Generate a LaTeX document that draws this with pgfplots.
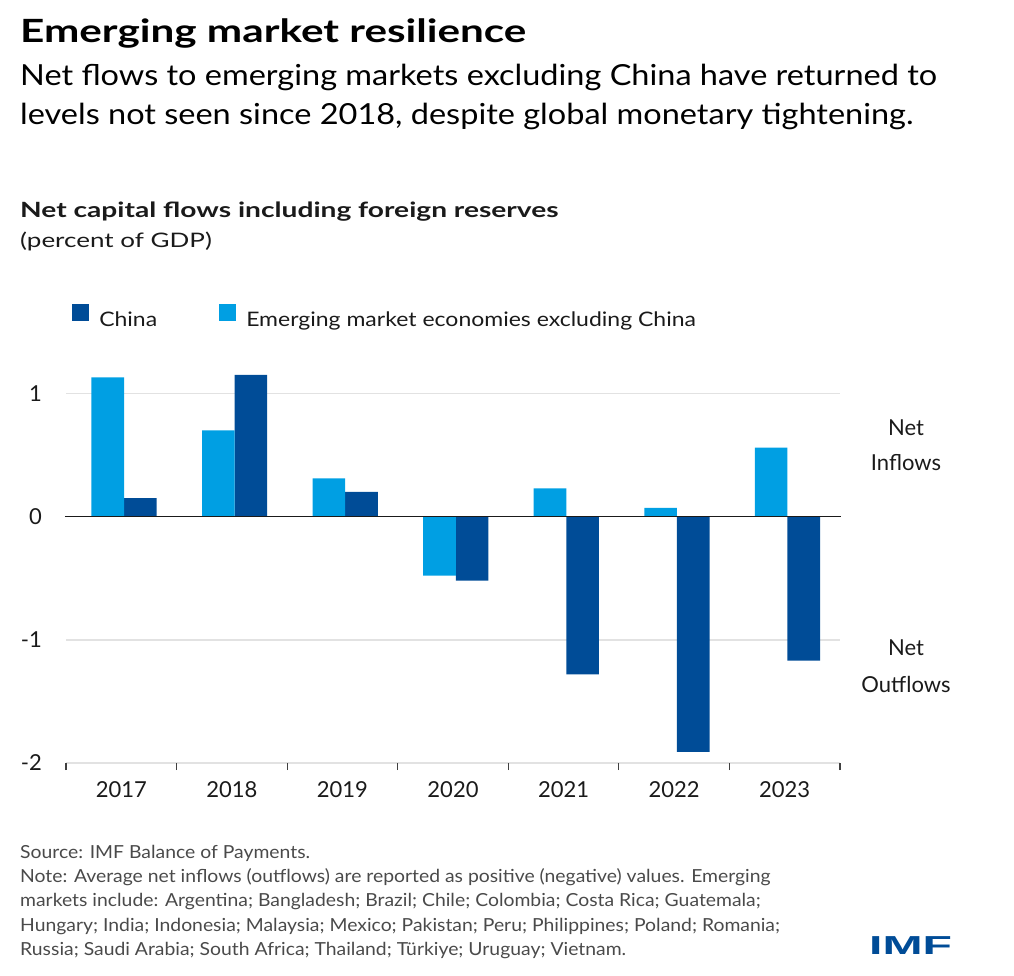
\documentclass[border=0pt]{standalone}
\usepackage{fontspec}
\usepackage{pgfplots}
\usepackage{pgfplotstable}
\pgfplotsset{compat=1.18}
\setmainfont{Lato}
\newfontfamily\titlefont{Lato}[FakeStretch=1.32]
\newfontfamily\subfont{Lato}[FakeStretch=1.12]
\newfontfamily\headfont{Lato}[FakeStretch=1.34]
\newfontfamily\unitfont{Lato}[FakeStretch=1.30]
\newfontfamily\legfont{Lato}[FakeStretch=1.15]
\newfontfamily\notefont{Lato}[FakeStretch=1.075]
\newfontfamily\logofont{Liberation Sans}[FakeStretch=1.85]

\definecolor{chinablue}{HTML}{004C97}
\definecolor{emblue}{HTML}{009FE3}
\definecolor{gridgray}{HTML}{E2E2E2}
\definecolor{notegray}{HTML}{4A4A4A}
\definecolor{inkdark}{HTML}{1A1A1A}

% Net capital flows including foreign reserves, percent of GDP
\pgfplotstableread{
idx year em china
0 2017 1.13 0.15
1 2018 0.70 1.15
2 2019 0.31 0.20
3 2020 -0.48 -0.52
4 2021 0.23 -1.28
5 2022 0.07 -1.91
6 2023 0.56 -1.17
}\flows

\begin{document}
\begin{tikzpicture}[x=1pt,y=1pt]
\path (0,0) rectangle (1014,975);

% headline and standfirst
\node[anchor=base west, inner sep=0] at (20,932)
  {\titlefont\fontsize{32}{38}\selectfont\bfseries Emerging market resilience};
\node[anchor=base west, inner sep=0] at (20,889)
  {\subfont\fontsize{29}{35}\selectfont Net flows to emerging markets excluding China have returned to};
\node[anchor=base west, inner sep=0] at (20,850)
  {\subfont\fontsize{29}{35}\selectfont levels not seen since 2018, despite global monetary tightening.};

% chart heading
\node[anchor=base west, inner sep=0, text=inkdark] at (20,757)
  {\headfont\fontsize{21}{25}\selectfont\bfseries Net capital flows including foreign reserves};
\node[anchor=base west, inner sep=0, text=inkdark] at (20,727)
  {\unitfont\fontsize{20}{24}\selectfont (percent of GDP)};

\begin{axis}[
  at={(66pt,212pt)}, anchor=south west,
  scale only axis, width=774pt, height=400.4pt,
  xmin=-0.5, xmax=6.5, ymin=-2, ymax=1.25,
  axis line style={draw=none},
  ymajorgrids, grid style={gridgray, line width=1.5pt},
  ytick={-2,-1,0,1}, yticklabels={-2,-1,0,1},
  xtick={0,...,6}, xticklabels={2017,2018,2019,2020,2021,2022,2023},
  minor xtick={-0.5,0.5,...,6.5},
  xtick pos=bottom, ytick pos=left,
  major tick length=0pt, minor tick length=7pt, tick align=outside,
  minor tick style={black!75, line width=1.2pt},
  yticklabel style={font=\fontsize{22}{26}\selectfont, text=inkdark, anchor=east, inner sep=0pt, xshift=-24pt},
  xticklabel style={font=\fontsize{22}{26}\selectfont, text=inkdark, anchor=north, inner sep=0pt, yshift=-18.7pt},
  ybar, bar width=0.295,
  legend columns=2,
  legend style={at={(0.0081,1.116)}, anchor=west, draw=none, fill=none,
    inner sep=0pt, outer sep=0pt,
    font=\legfont\fontsize{20}{24}\selectfont,
    nodes={inner sep=0pt, text=inkdark},
    /tikz/every odd column/.append style={column sep=10pt},
    /tikz/every even column/.append style={column sep=62pt}},
  clip=false,
]
\addplot[fill=chinablue, draw=none, bar shift=0.1725,
  legend image code/.code={\fill[chinablue] (0pt,-1pt) rectangle (17pt,15.7pt);}]
  table[x=idx, y=china] {\flows};
\addlegendentry{China}
\addplot[fill=emblue, draw=none, bar shift=-0.1225,
  legend image code/.code={\fill[emblue] (0pt,-1pt) rectangle (17pt,15.7pt);}]
  table[x=idx, y=em] {\flows};
\addlegendentry{Emerging market economies excluding China}
% zero baseline
\draw[inkdark, line width=1.8pt] (axis cs:-0.51,0) -- (axis cs:6.51,0);
\end{axis}

% side annotations
\node[anchor=base, inner sep=0, text=inkdark] at (906,539) {\fontsize{22}{26}\selectfont Net};
\node[anchor=base, inner sep=0, text=inkdark] at (906,504) {\fontsize{22}{26}\selectfont Inflows};
\node[anchor=base, inner sep=0, text=inkdark] at (906,319) {\fontsize{22}{26}\selectfont Net};
\node[anchor=base, inner sep=0, text=inkdark] at (906,283) {\fontsize{22}{26}\selectfont Outflows};

% source and note
\begin{scope}[every node/.style={anchor=base west, inner sep=0, text=notegray,
    font=\notefont\fontsize{18}{21}\selectfont}]
\node at (20,117) {Source: IMF Balance of Payments.};
\node at (20,93) {Note: Average net inflows (outflows) are reported as positive (negative) values. Emerging};
\node at (20,69) {markets include: Argentina; Bangladesh; Brazil; Chile; Colombia; Costa Rica; Guatemala;};
\node at (20,44) {Hungary; India; Indonesia; Malaysia; Mexico; Pakistan; Peru; Philippines; Poland; Romania;};
\node at (20,20) {Russia; Saudi Arabia; South Africa; Thailand; Türkiye; Uruguay; Vietnam.};
\end{scope}

% logo
\node[anchor=base west, inner sep=0, text=chinablue] at (869,20.7)
  {\logofont\fontsize{26}{30}\selectfont\bfseries IMF};
\end{tikzpicture}
\end{document}
